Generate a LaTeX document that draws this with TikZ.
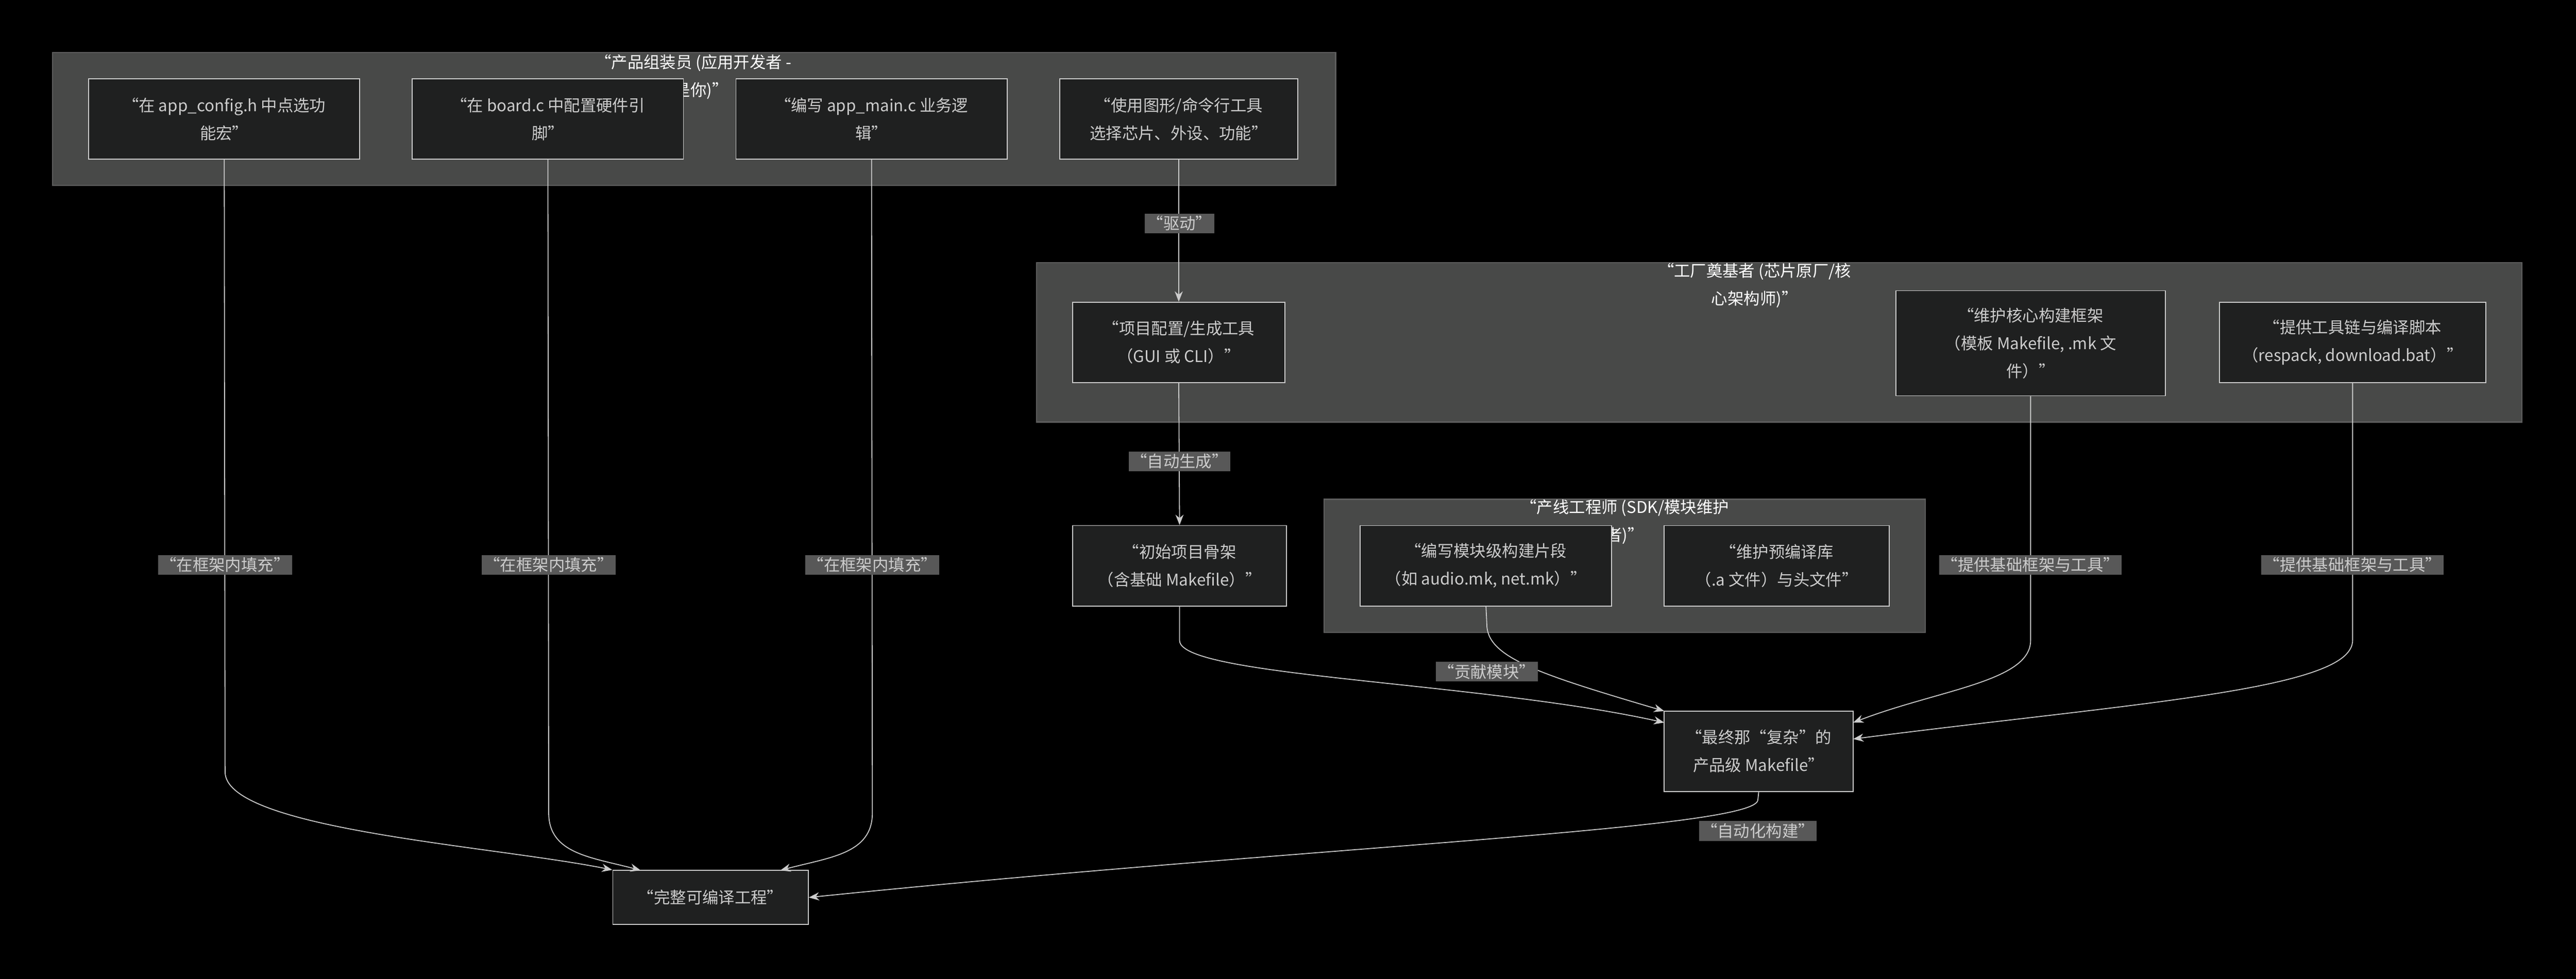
\documentclass[tikz,border=0pt]{standalone}
\usepackage{fontspec}
\setmainfont{Noto Sans CJK SC}
\usetikzlibrary{arrows.meta}
\definecolor{bg}{HTML}{000000}
\definecolor{clu}{HTML}{484948}
\definecolor{clb}{HTML}{5E5E5E}
\definecolor{nf}{HTML}{1F2020}
\definecolor{tx}{HTML}{CCCCCC}
\definecolor{lb}{HTML}{585858}
\begin{document}
\begin{tikzpicture}[x=0.05cm,y=-0.05cm,
  every node/.style={font=\fontsize{14}{24}\selectfont},
  clus/.style={draw=clb,fill=clu,line width=1pt},
  ctitle/.style={text=white,align=center,anchor=north,inner sep=0pt},
  box/.style={draw=tx,fill=nf,text=tx,align=center,line width=0.8pt,inner sep=0pt},
  edge/.style={draw=tx,line width=0.8pt,-{Stealth[length=9pt,width=7pt]}},
  lab/.style={fill=lb,text=tx,inner sep=2pt}]
\fill[bg] (0,0) rectangle (1568,596);
\useasboundingbox (0,0) rectangle (1568,596);
% clusters
\draw[clus] (32,32) rectangle (813,113);
\node[ctitle] (t1) at (422,33) {“产品组装员 (应用开发者 -\\就是你)”};
\draw[clus] (631,160) rectangle (1535,257);
\node[ctitle] (t2) at (1068,160) {“工厂奠基者 (芯片原厂/核\\心架构师)”};
\draw[clus] (806,304) rectangle (1172,385);
\node[ctitle] (t3) at (989,304) {“产线工程师 (SDK/模块维护\\者)”};
% nodes
\newcommand{\bx}[6]{\node[box,minimum width={(#4-#2)*0.05cm},minimum height={(#5-#3)*0.05cm}] (#1) at ({(#2+#4)/2},{(#3+#5)/2}) {#6};}
\bx{A1}{54}{48}{219}{97}{“在 app\_config.h 中点选功\\能宏”}
\bx{A2}{251}{48}{416}{97}{“在 board.c 中配置硬件引\\脚”}
\bx{A3}{448}{48}{613}{97}{“编写 app\_main.c 业务逻\\辑”}
\bx{A4}{645}{48}{790}{97}{“使用图形/命令行工具\\选择芯片、外设、功能”}
\bx{B1}{653}{184}{782}{233}{“项目配置/生成工具\\（GUI 或 CLI）”}
\bx{B2}{1154}{177}{1318}{241}{“维护核心构建框架\\（模板 Makefile, .mk 文\\件）”}
\bx{B3}{1351}{184}{1513}{233}{“提供工具链与编译脚本\\（respack, download.bat）”}
\bx{C1}{828}{320}{981}{369}{“编写模块级构建片段\\（如 audio.mk, net.mk）”}
\bx{C2}{1013}{320}{1150}{369}{“维护预编译库\\（.a 文件）与头文件”}
\bx{D1}{653}{320}{783}{369}{“初始项目骨架\\（含基础 Makefile）”}
\bx{M}{1013}{433}{1128}{482}{“最终那“复杂”的\\产品级 Makefile”}
\bx{F}{373}{530}{492}{563}{“完整可编译工程”}
% edges
\draw[edge] (A4.south) -- (B1.north);
\draw[edge] (B1.south) -- (D1.north);
\draw[edge] (A1.south) -- (137,470) .. controls (137,505) and (300,515) .. (F.north west);
\draw[edge] (A2.south) -- (334,495) .. controls (334,520) and (360,522) .. (390,530);
\draw[edge] (A3.south) -- (531,495) .. controls (531,520) and (505,522) .. (475,530);
\draw[edge] (D1.south) -- (718,390) .. controls (718,412) and (900,415) .. (1013,440);
\draw[edge] (C1.south) -- (905,380) .. controls (905,400) and (935,410) .. (1013,433);
\draw[edge] (B2.south) -- (1236,390) .. controls (1236,415) and (1180,420) .. (1128,440);
\draw[edge] (B3.south) -- (1432,390) .. controls (1432,420) and (1300,428) .. (1128,450);
\draw[edge] (M.south) -- (1070,487) .. controls (1070,505) and (800,515) .. (F.east);
% labels
\node[lab] (l1) at (718,136) {“驱动”};
\node[lab] (l2) at (718,281) {“自动生成”};
\node[lab] (l3) at (137,344) {“在框架内填充”};
\node[lab] (l4) at (334,344) {“在框架内填充”};
\node[lab] (l5) at (531,344) {“在框架内填充”};
\node[lab] (l6) at (905,409) {“贡献模块”};
\node[lab] (l7) at (1236,344) {“提供基础框架与工具”};
\node[lab] (l8) at (1432,344) {“提供基础框架与工具”};
\node[lab] (l9) at (1070,506) {“自动化构建”};
\end{tikzpicture}
\end{document}
